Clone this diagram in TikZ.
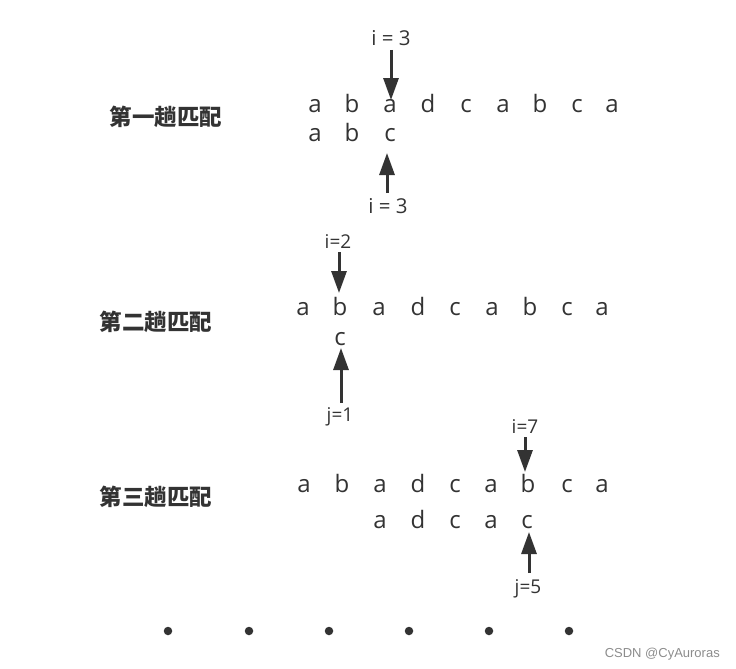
\documentclass[tikz,border=0pt]{standalone}
\usepackage{fontspec}
\setmainfont{Open Sans}
\newfontfamily\cjk{Noto Sans CJK SC}
\newfontfamily\wmfont{Liberation Sans}
\usetikzlibrary{arrows.meta}
\definecolor{ink}{HTML}{333333}
\begin{document}
\begin{tikzpicture}[x=1pt,y=-1pt,
  ch/.style={anchor=base, font=\fontsize{24}{24}\selectfont, text=ink, inner sep=0pt},
  lblbig/.style={anchor=base, font=\fontsize{20.5}{20.5}\selectfont, text=ink, inner sep=0pt},
  lbl/.style={anchor=base, font=\fontsize{19}{19}\selectfont, text=ink, inner sep=0pt},
  ttl/.style={font=\cjk\bfseries\fontsize{22.5}{22.5}\selectfont, text=ink, inner sep=0pt},
  ptr/.style={draw=ink, line width=3pt, -{Triangle[width=15pt,length=22pt]}},
  dotnode/.style={circle, fill=ink, draw=none, inner sep=0pt, minimum size=8.5pt}]
\useasboundingbox (0,0) rectangle (736,669);

% titles
\node[ttl] (t1) at (166,117) {第一趟匹配};
\node[ttl] (t2) at (156,322) {第二趟匹配};
\node[ttl] (t3) at (156,497) {第三趟匹配};

% row 1
\foreach \c/\x [count=\k] in {a/315,b/352,a/390,d/428,c/466,a/503,b/540,c/577,a/612}
  \node[ch] (ra\k) at (\x,112) {\c};
\foreach \c/\x [count=\k] in {a/315,b/352,c/390}
  \node[ch] (pa\k) at (\x,141) {\c};
\node[lblbig] (ia) at (391,46) {i = 3};
\node[lblbig] (ja) at (388,213) {i = 3};
\coordinate (tipa1) at (391,100);
\coordinate (tipa2) at (387,153);
\draw[ptr] (ia.south |- 0,50) -- (tipa1);
\draw[ptr] (tipa2 |- 0,193) -- (tipa2);

% row 2
\foreach \c/\x [count=\k] in {a/303,b/340,a/379,d/418,c/455,a/492,b/530,c/567,a/602}
  \node[ch] (rb\k) at (\x,315) {\c};
\node[ch] (pb1) at (340,345) {c};
\node[lbl] (ib) at (338,248) {i=2};
\node[lbl] (jb) at (340,421) {j=1};
\coordinate (tipb1) at (339,293);
\coordinate (tipb2) at (341,348);
\draw[ptr] (tipb1 |- 0,252) -- (tipb1);
\draw[ptr] (tipb2 |- 0,403) -- (tipb2);

% row 3
\foreach \c/\x [count=\k] in {a/304,b/342,a/380,d/418,c/455,a/491,b/528,c/567,a/602}
  \node[ch] (rc\k) at (\x,492) {\c};
\foreach \c/\x [count=\k] in {a/380,d/418,c/455,a/491,c/527}
  \node[ch] (pc\k) at (\x,528) {\c};
\node[lbl] (ic) at (525,433) {i=7};
\node[lbl] (jc) at (528,593) {j=5};
\coordinate (tipc1) at (525,472);
\coordinate (tipc2) at (529,532);
\draw[ptr] (tipc1 |- 0,437) -- (tipc1);
\draw[ptr] (tipc2 |- 0,573) -- (tipc2);

% dots
\foreach \x [count=\k] in {168,249,329,409,489,569}
  \node[dotnode] (d\k) at (\x,631) {};

% watermark
\node[anchor=base east, inner sep=0pt, font=\wmfont\fontsize{13}{13}\selectfont, text=black!45] (wm) at (720,657) {CSDN @CyAuroras};
\end{tikzpicture}
\end{document}
